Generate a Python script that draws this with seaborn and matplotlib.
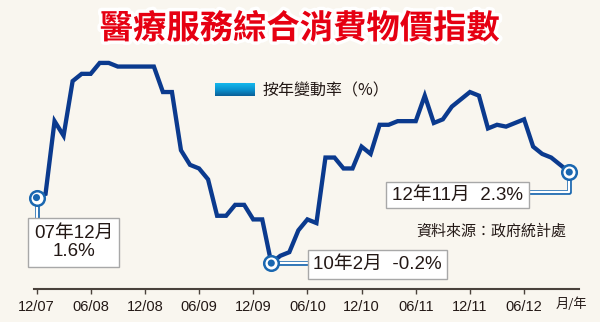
import numpy as np
import pandas as pd
import matplotlib
matplotlib.use("Agg")
import matplotlib.pyplot as plt
import seaborn as sns
from matplotlib import patheffects as pe
from matplotlib.patches import Rectangle
from matplotlib.colors import LinearSegmentedColormap

# ---------------- data ----------------
values = [1.6, 1.7, 3.7, 3.3, 4.8, 5.0, 5.0, 5.3, 5.3, 5.2,
          5.2, 5.2, 5.2, 5.2, 4.5, 4.5, 2.9, 2.5, 2.4, 2.1,
          1.1, 1.1, 1.4, 1.4, 1.0, 1.0, -0.2, 0.0, 0.1, 0.7,
          1.0, 0.9, 2.7, 2.7, 2.4, 2.4, 3.0, 2.8, 3.6, 3.6,
          3.7, 3.7, 3.7, 4.4, 3.65, 3.75, 4.1, 4.3, 4.5, 4.4,
          3.5, 3.6, 3.55, 3.65, 3.75, 3.0, 2.8, 2.7, 2.5, 2.3]
tick_labels = ["12/07", "06/08", "12/08", "06/09", "12/09",
               "06/10", "12/10", "06/11", "12/11", "06/12"]
tick_step = 6
title = "醫療服務綜合消費物價指數"
legend_label = "按年變動率（%）"
source = "資料來源：政府統計處"
axis_unit = "月/年"
ann_idx = [0, 26, 59]
ann_text = ["07年12月\n1.6%", "10年2月  -0.2%", "12年11月  2.3%"]

# ---------------- style ----------------
W, H = 600, 322
BG = "#f9f6ef"
LINE = "#0b3a8e"
MARK = "#1a67b0"
TXT = "#231815"
AXC = "#4a423c"

sns.set_theme(style="white")
plt.rcParams["font.family"] = ["Liberation Sans", "Noto Sans CJK TC", "DejaVu Sans"]
CJK = ["Liberation Sans", "Noto Sans CJK TC"]

fig = plt.figure(figsize=(W / 100, H / 100), dpi=100, facecolor=BG)
ax = fig.add_axes([34 / W, (H - 289) / H, 545 / W, 239 / H])
ax.set_facecolor("none")

df = pd.DataFrame({"m": np.arange(len(values)), "v": values})
sns.lineplot(data=df, x="m", y="v", ax=ax, color=LINE, linewidth=3.1, legend=False)
ax.lines[0].set_solid_joinstyle("miter")
ax.set_xlim(-0.277, 60.08)
ax.set_ylim(-0.912, 5.655)

ax.set_xticks(np.arange(0, len(values), tick_step))
ax.set_xticklabels(tick_labels, fontsize=10.5, color=TXT)
ax.set_yticks([])
ax.set_xlabel("")
ax.set_ylabel("")
for s in ["left", "top", "right"]:
    ax.spines[s].set_visible(False)
ax.spines["bottom"].set_color(AXC)
ax.spines["bottom"].set_linewidth(1.5)
ax.tick_params(axis="x", length=3.5, width=1, color=AXC, pad=4.5, direction="out", bottom=True)


def px2data(px, py):
    return ax.transData.inverted().transform((px, H - py))


def connector(xs, ys):
    ax.plot(xs, ys, color=MARK, lw=3.4, solid_capstyle="butt", clip_on=False, zorder=3)
    ax.plot(xs, ys, color="white", lw=1.6, solid_capstyle="butt", clip_on=False, zorder=3.1)


# connectors
xa, ya = ann_idx[0], values[ann_idx[0]]
connector([xa, xa], [ya, px2data(0, 219)[1]])
xb, yb = ann_idx[1], values[ann_idx[1]]
connector([xb, px2data(309, 0)[0]], [yb, yb])
xc, yc = ann_idx[2], values[ann_idx[2]]
ybend = px2data(0, 192)[1]
connector([xc, xc, px2data(529, 0)[0]], [yc, ybend, ybend])

# markers
mx = [ann_idx[i] for i in range(3)]
my = [values[i] for i in ann_idx]
ax.scatter(mx, my, s=110, facecolor="white", edgecolor=MARK, linewidth=1.8, zorder=4, clip_on=False)
ax.scatter(mx, my, s=26, facecolor=MARK, edgecolor="none", zorder=5, clip_on=False)

# annotation boxes
boxes = [(28, 218, 119, 267), (308, 250, 447, 279), (386, 182, 529, 208)]
for (x0, y0, x1, y1), t in zip(boxes, ann_text):
    fig.add_artist(Rectangle((x0 / W, 1 - y1 / H), (x1 - x0) / W, (y1 - y0) / H,
                             transform=fig.transFigure, facecolor="white",
                             edgecolor="#a8a8a8", linewidth=1, zorder=5))
    fig.text((x0 + x1) / 2 / W, 1 - (y0 + y1) / 2 / H, t, ha="center", va="center",
             fontsize=13.5, color=TXT, family=CJK, linespacing=1.15,
             multialignment="center", zorder=6)

# title
fig.text(0.5, 1 - 29 / H, title, ha="center", va="center", fontsize=24,
         fontweight="bold", color="#e60012", family=["Noto Sans CJK TC"],
         path_effects=[pe.withStroke(linewidth=5, foreground="white")])

# legend (gradient swatch + text)
lax = fig.add_axes([215 / W, 1 - 96 / H, 40 / W, 13 / H])
cmap = LinearSegmentedColormap.from_list("g", ["#15b8ec", "#0a93d0", "#0a5f98"])
lax.imshow(np.linspace(0, 1, 50).reshape(-1, 1), aspect="auto", cmap=cmap)
lax.axis("off")
fig.text(263 / W, 1 - 90.5 / H, legend_label, ha="left", va="center", fontsize=11.5,
         color=TXT, family=["Noto Sans CJK TC"])

# source and unit
fig.text(491.5 / W, 1 - 231.5 / H, source, ha="center", va="center", fontsize=10.8,
         color=TXT, family=["Noto Sans CJK TC"])
fig.text(571 / W, 1 - 304 / H, axis_unit, ha="center", va="center", fontsize=9.5,
         color=TXT, family=["Noto Sans CJK TC"])

fig.savefig("out.png", dpi=100, facecolor=BG)
